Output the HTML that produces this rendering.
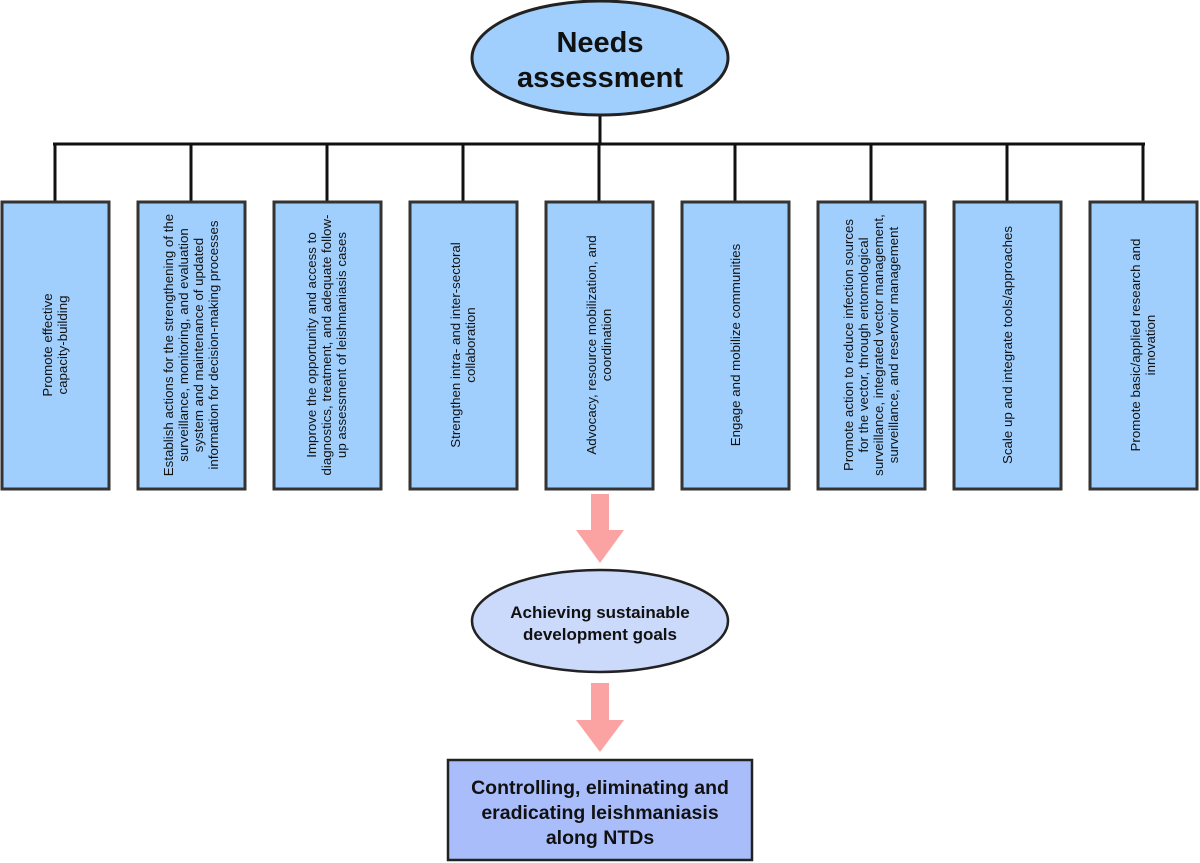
<!DOCTYPE html>
<html><head><meta charset="utf-8"><style>
html,body{margin:0;padding:0;background:#fff;width:1200px;height:863px;overflow:hidden}
svg{display:block}
.t{font-family:"Liberation Sans",sans-serif;font-size:13.3px;fill:#111}
</style></head><body>
<svg width="1200" height="863" viewBox="0 0 1200 863" xmlns="http://www.w3.org/2000/svg">
<g stroke="#111" stroke-width="3" fill="none">
<line x1="600" y1="114" x2="600" y2="144"/>
<line x1="53" y1="144" x2="1145" y2="144"/>
<line x1="55" y1="144" x2="55" y2="202"/>
<line x1="191" y1="144" x2="191" y2="202"/>
<line x1="327" y1="144" x2="327" y2="202"/>
<line x1="463" y1="144" x2="463" y2="202"/>
<line x1="599" y1="144" x2="599" y2="202"/>
<line x1="735" y1="144" x2="735" y2="202"/>
<line x1="871" y1="144" x2="871" y2="202"/>
<line x1="1007" y1="144" x2="1007" y2="202"/>
<line x1="1143" y1="144" x2="1143" y2="202"/>
</g>
<ellipse cx="600" cy="58" rx="128" ry="57" fill="#a0cffe" stroke="#222" stroke-width="3"/>
<text x="600" y="52" text-anchor="middle" font-family="Liberation Sans,sans-serif" font-weight="bold" font-size="29" fill="#111">Needs</text>
<text x="600" y="87" text-anchor="middle" font-family="Liberation Sans,sans-serif" font-weight="bold" font-size="29" fill="#111">assessment</text>
<g fill="#a0cffe" stroke="#333" stroke-width="3">
<rect x="2" y="202" width="107" height="287"/>
<rect x="138" y="202" width="107" height="287"/>
<rect x="274" y="202" width="107" height="287"/>
<rect x="410" y="202" width="107" height="287"/>
<rect x="546" y="202" width="107" height="287"/>
<rect x="682" y="202" width="107" height="287"/>
<rect x="818" y="202" width="107" height="287"/>
<rect x="954" y="202" width="107" height="287"/>
<rect x="1090" y="202" width="107" height="287"/>
</g>
<g class="t" text-anchor="middle">
<text transform="translate(55,345) rotate(-90)"><tspan x="0" y="-3">Promote effective</tspan><tspan x="0" y="12">capacity-building</tspan></text>
<text transform="translate(191,345) rotate(-90)"><tspan x="0" y="-18">Establish actions for the strengthening of the</tspan><tspan x="0" y="-3">surveillance, monitoring, and evaluation</tspan><tspan x="0" y="12">system and maintenance of updated</tspan><tspan x="0" y="27">information for decision-making processes</tspan></text>
<text transform="translate(327,345) rotate(-90)"><tspan x="0" y="-11">Improve the opportunity and access to</tspan><tspan x="0" y="4">diagnostics, treatment, and adequate follow-</tspan><tspan x="0" y="19">up assessment of leishmaniasis cases</tspan></text>
<text transform="translate(463,345) rotate(-90)"><tspan x="0" y="-3">Strengthen intra- and inter-sectoral</tspan><tspan x="0" y="12">collaboration</tspan></text>
<text transform="translate(599,345) rotate(-90)"><tspan x="0" y="-3">Advocacy, resource mobilization, and</tspan><tspan x="0" y="12">coordination</tspan></text>
<text transform="translate(735,345) rotate(-90)"><tspan x="0" y="5">Engage and mobilize communities</tspan></text>
<text transform="translate(871,345) rotate(-90)"><tspan x="0" y="-18">Promote action to reduce infection sources</tspan><tspan x="0" y="-3">for the vector, through entomological</tspan><tspan x="0" y="12">surveillance, integrated vector management,</tspan><tspan x="0" y="27">surveillance, and reservoir management</tspan></text>
<text transform="translate(1007,345) rotate(-90)"><tspan x="0" y="5">Scale up and integrate tools/approaches</tspan></text>
<text transform="translate(1143,345) rotate(-90)"><tspan x="0" y="-3">Promote basic/applied research and</tspan><tspan x="0" y="12">innovation</tspan></text>
</g>
<g fill="#fba3a3">
<polygon points="591,494 609,494 609,530 624,530 600,563 576,530 591,530"/>
<polygon points="591,683 609,683 609,720 624,720 600,752 576,720 591,720"/>
</g>
<ellipse cx="600" cy="621" rx="128" ry="51" fill="#cbd9fb" stroke="#222" stroke-width="2.5"/>
<text x="600" y="618" text-anchor="middle" font-family="Liberation Sans,sans-serif" font-weight="bold" font-size="17" fill="#111">Achieving sustainable</text>
<text x="600" y="640" text-anchor="middle" font-family="Liberation Sans,sans-serif" font-weight="bold" font-size="17" fill="#111">development goals</text>
<rect x="448" y="760" width="304" height="100" fill="#aabdfb" stroke="#222" stroke-width="2.5"/>
<g font-family="Liberation Sans,sans-serif" font-weight="bold" font-size="19.5" fill="#111" text-anchor="middle">
<text x="600" y="794">Controlling, eliminating and</text>
<text x="600" y="819">eradicating leishmaniasis</text>
<text x="600" y="844">along NTDs</text>
</g>
</svg>
</body></html>
